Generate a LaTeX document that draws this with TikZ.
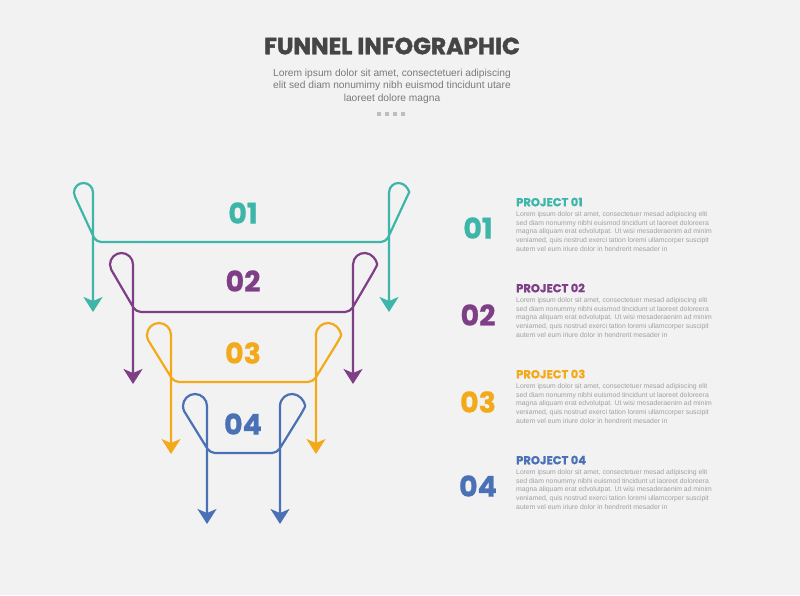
\documentclass[tikz,border=0pt]{standalone}
\usepackage{fontspec}
\setmainfont{Liberation Sans}
\newfontfamily\pop{Poppins}
\newfontfamily\popheavy{Poppins}[BoldFeatures={FakeBold=1.6}]
\newfontfamily\popnum{Poppins}[BoldFeatures={FakeBold=0.8}]
\usetikzlibrary{arrows.meta}
\definecolor{bg}{HTML}{F2F2F2}
\definecolor{cA}{HTML}{3DB5A9}
\definecolor{cB}{HTML}{7E3F86}
\definecolor{cC}{HTML}{F2AA1A}
\definecolor{cD}{HTML}{4A70B5}
\definecolor{ttl}{HTML}{454545}
\definecolor{subc}{HTML}{7A7A7A}
\definecolor{bodyc}{HTML}{A0A0A0}
\definecolor{dotc}{HTML}{BDBDBD}
\newcommand\bodytext{Lorem ipsum dolor sit amet, consectetuer mesad adipiscing elit\\sed diam nonummy nibhi euismod tincidunt ut laoreet doloreera\\magna aliquam erat edvolutpat. Ut wisi mesaderaenim ad minim\\veniamed, quis nostrud exerci tation loremi ullamcorper suscipit\\autem vel eum iriure dolor in hendrerit mesader in}
% #1 colour, #2 left x, #3 right x, #4 top y, #5 arrow y, #6 loop radius
\newcommand\funnelpart[6]{%
  \pgfmathsetmacro\fta{#4+#6}%
  \pgfmathsetmacro\frx{#3+1.899*#6}%
  \pgfmathsetmacro\fry{#4+1.438*#6}%
  \pgfmathsetmacro\fby{#4+59}%
  \draw[funnelline, draw=#1]
    (#2,#5) -- (#2,\fta) arc[start angle=0, end angle=-206, radius=#6]
    [rounded corners=5pt] -- (#2+3,\fby) -- (#3-3,\fby) -- (\frx,\fry)
    [sharp corners] arc[start angle=26, end angle=-180, radius=#6] -- (#3,#5);}
\begin{document}
\begin{tikzpicture}[x=1pt,y=-1pt,
  funnelline/.style={line width=2.2pt, line join=round,
    {Stealth[length=15pt,width=19pt,inset=4pt]}-{Stealth[length=15pt,width=19pt,inset=4pt]}},
  lvl/.style={font=\popnum\bfseries\fontsize{28.5}{28.5}\selectfont, text=#1, inner sep=0pt},
  ptitle/.style={font=\popnum\bfseries\fontsize{11.5}{12}\selectfont, text=#1, anchor=west, inner sep=0pt},
  pbody/.style={font=\fontsize{6.85}{8.6}\selectfont, text=bodyc, align=left, anchor=north west, inner sep=0pt},
  dotbox/.style={fill=dotc, minimum size=4pt, inner sep=0pt}]
\fill[bg] (0,0) rectangle (800,595);
\useasboundingbox (0,0) rectangle (800,595);

\node[font=\popheavy\bfseries\fontsize{23.4}{23.4}\selectfont, text=ttl, inner sep=0pt] (title) at (392,46) {FUNNEL INFOGRAPHIC};
\node[font=\fontsize{10.2}{12.5}\selectfont, text=subc, align=center, inner sep=0pt, anchor=north] (subtitle) at (392,68.5)
  {Lorem ipsum dolor sit amet, consectetueri adipiscing\\elit sed diam nonumimy nibh euismod tincidunt utare\\laoreet dolore magna};
\foreach \i/\x in {1/379,2/387,3/395,4/403}
  \node[dotbox] (dot\i) at (\x,114) {};

\funnelpart{cA}{93}{389}{183}{312}{9.5}
\funnelpart{cB}{133}{353}{253}{384}{11.5}
\funnelpart{cC}{171}{316}{323}{454}{12}
\funnelpart{cD}{207}{280}{394}{524}{12}

\node[lvl=cA] (f1) at (243,213) {01};
\node[lvl=cB] (f2) at (243,281) {02};
\node[lvl=cC] (f3) at (243,353) {03};
\node[lvl=cD] (f4) at (243,424) {04};

\node[lvl=cA] (n1) at (478,228) {01};
\node[lvl=cB] (n2) at (478,315) {02};
\node[lvl=cC] (n3) at (478,402) {03};
\node[lvl=cD] (n4) at (478,486) {04};

\node[ptitle=cA] (p1) at (516,202) {PROJECT 01};
\node[ptitle=cB] (p2) at (516,288) {PROJECT 02};
\node[ptitle=cC] (p3) at (516,374) {PROJECT 03};
\node[ptitle=cD] (p4) at (516,460) {PROJECT 04};

\node[pbody] (b1) at (516,211.5) {\bodytext};
\node[pbody] (b2) at (516,297.5) {\bodytext};
\node[pbody] (b3) at (516,383.5) {\bodytext};
\node[pbody] (b4) at (516,469.5) {\bodytext};
\end{tikzpicture}
\end{document}
